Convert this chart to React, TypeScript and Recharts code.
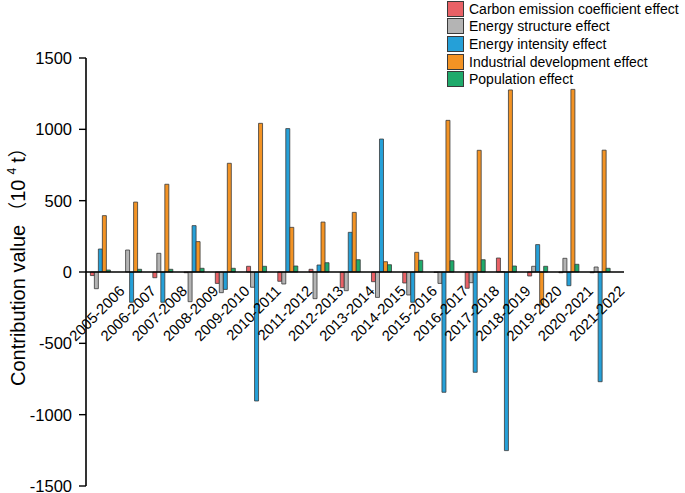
import React from "react"
import { Bar, BarChart, XAxis, YAxis, ReferenceLine } from "recharts"

const periods = [
  "2005-2006", "2006-2007", "2007-2008", "2008-2009", "2009-2010", "2010-2011",
  "2011-2012", "2012-2013", "2013-2014", "2014-2015", "2015-2016", "2016-2017",
  "2017-2018", "2018-2019", "2019-2020", "2020-2021", "2021-2022",
]
const carbonCoef = [-25, 0, -40, -5, -80, 40, -65, 19, -110, -68, -77, -3, -114, 98, -28, -5, -5]
const energyStructure = [-117, 154, 131, -208, -145, -107, -84, -187, -131, -178, -161, -80, -75, 3, 40, 96, 35]
const energyIntensity = [161, -212, -212, 325, -122, -904, 1005, 49, 278, 932, -212, -843, -703, -1252, 192, -96, -769]
const industrialDev = [395, 490, 615, 213, 762, 1042, 313, 350, 418, 72, 138, 1063, 853, 1276, -231, 1280, 854]
const population = [14, 19, 19, 26, 26, 40, 42, 65, 86, 51, 82, 79, 86, 42, 40, 54, 26]
const yTicks = [-1500, -1000, -500, 0, 500, 1000, 1500]

const series = [
  { key: "carbon", name: "Carbon emission coefficient effect", color: "#e96166", values: carbonCoef },
  { key: "structure", name: "Energy structure effect", color: "#b4b4b4", values: energyStructure },
  { key: "intensity", name: "Energy intensity effect", color: "#25a0d8", values: energyIntensity },
  { key: "industrial", name: "Industrial development effect", color: "#f39324", values: industrialDev },
  { key: "population", name: "Population effect", color: "#1faa6b", values: population },
]

const data = periods.map((p, i) => {
  const row: Record<string, any> = { period: p }
  series.forEach((s) => (row[s.key] = s.values[i]))
  return row
})

const W = 685
const H = 493
const X_AXIS_H = 1
const MARGIN = { top: 58, right: 61, bottom: 6, left: 0 }
const Y_MIN = -1500
const Y_MAX = 1500
const PLOT_H = H - MARGIN.top - MARGIN.bottom - X_AXIS_H
// distance from the bottom of the plot up to the zero line
const ZERO_SHIFT = (PLOT_H * (0 - Y_MIN)) / (Y_MAX - Y_MIN)
const FONT = "'Liberation Sans', Arial, sans-serif"
const CJK = "'Noto Sans CJK SC', sans-serif"

const XTick = (props: any) => {
  const { x, y, payload } = props
  const tx = x + 24
  const ty = y - ZERO_SHIFT + 20
  return (
    <text
      x={tx}
      y={ty}
      transform={`rotate(-45 ${tx} ${ty})`}
      textAnchor="end"
      fontSize={14.8}
      fontFamily={FONT}
      fill="#000"
    >
      {payload.value}
    </text>
  )
}

const YLabel = () => (
  <text
    x={25}
    y={386}
    transform="rotate(-90 25 386)"
    textAnchor="start"
    fontSize={20}
    fontFamily={FONT}
    fill="#000"
  >
    Contribution value
    <tspan fontFamily={CJK} fontSize={19} dx={4}>（</tspan>
    10
    <tspan fontSize={12} dy={-9} dx={5}>4</tspan>
    <tspan dy={9} dx={5}>t</tspan>
    <tspan fontFamily={CJK} fontSize={19}>）</tspan>
  </text>
)

export default function App() {
  return (
    <div style={{ position: "absolute", left: 0, top: 0, width: W, height: H, background: "#fff" }}>
      <BarChart width={W} height={H} data={data} margin={MARGIN} barCategoryGap="14%" barGap={0}>
        <XAxis
          dataKey="period"
          height={X_AXIS_H}
          axisLine={false}
          tickLine={false}
          tickSize={0}
          tickMargin={0}
          interval={0}
          padding={{ left: 0, right: 7 }}
          tick={(p: any) => <XTick {...p} />}
        />
        <YAxis
          width={86}
          domain={[Y_MIN, Y_MAX]}
          ticks={yTicks}
          interval={0}
          axisLine={{ stroke: "#000", strokeWidth: 1.6 }}
          tickLine={{ stroke: "#000", strokeWidth: 1.4 }}
          tickSize={7}
          tickMargin={7}
          tick={{ fill: "#000", fontSize: 16.5, fontFamily: FONT }}
          label={{ content: <YLabel /> }}
        />
        {series.map((s) => (
          <Bar
            key={s.key}
            dataKey={s.key}
            name={s.name}
            fill={s.color}
            stroke="#3a3a3a"
            strokeWidth={0.8}
            isAnimationActive={false}
          />
        ))}
        <ReferenceLine y={0} stroke="#000" strokeWidth={1.6} />
      </BarChart>
      <div style={{ position: "absolute", left: 447, top: 0, fontFamily: FONT, fontSize: 14, color: "#000" }}>
        {series.map((s) => (
          <div key={s.key} style={{ display: "flex", alignItems: "center", height: 17.6, whiteSpace: "nowrap" }}>
            <span
              style={{
                display: "inline-block",
                width: 17,
                height: 16,
                background: s.color,
                border: "1px solid #3a3a3a",
                boxSizing: "border-box",
                marginRight: 5,
              }}
            />
            {s.name}
          </div>
        ))}
      </div>
    </div>
  )
}
